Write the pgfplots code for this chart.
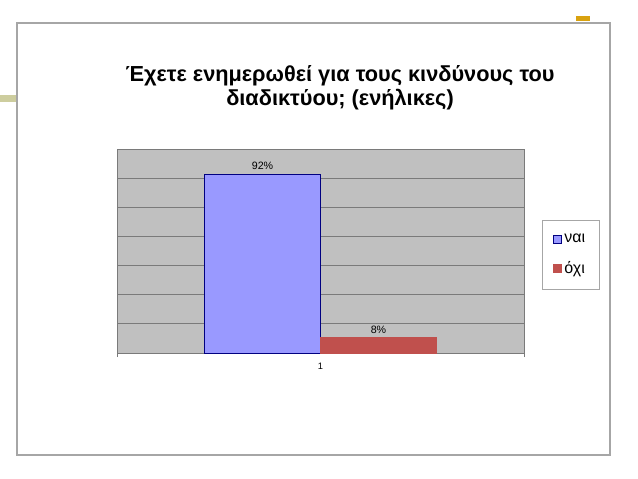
\documentclass[border=0pt]{standalone}
\usepackage{pgfplots}
\pgfplotsset{compat=1.18}
\usepackage{fontspec}
\setmainfont{Liberation Sans}

\definecolor{plotbg}{HTML}{C0C0C0}
\definecolor{gridgray}{HTML}{7A7A7A}
\definecolor{framegray}{HTML}{A6A6A6}
\definecolor{naiblue}{HTML}{9999FF}
\definecolor{navyedge}{HTML}{000080}
\definecolor{oxired}{HTML}{C0504D}
\definecolor{olivebar}{HTML}{CDCD9E}
\definecolor{goldmark}{HTML}{D9A20F}

\begin{document}
\begin{tikzpicture}
  % slide decoration, in pixel units of the reference
  \begin{scope}[x=0.75pt,y=-0.75pt]
    \path (0,0) rectangle (638,478);
    \fill[olivebar] (0,95) rectangle (17,102);
    \fill[goldmark] (576,16) rectangle (590,21);
    \draw[framegray, line width=0.9pt] (17,23) rectangle (610,455);
    \node[font=\bfseries\fontsize{16.3}{19}\selectfont, anchor=base]
      at (340,81) {Έχετε ενημερωθεί για τους κινδύνους του};
    \node[font=\bfseries\fontsize{16.3}{19}\selectfont, anchor=base]
      at (340,105) {διαδικτύου; (ενήλικες)};
  \end{scope}

  \begin{axis}[
      at={(87.75pt,-264.75pt)},
      anchor=south west,
      scale only axis,
      width=305.25pt,
      height=153pt,
      xmin=0, xmax=2,
      ymin=0, ymax=105,
      ybar=0pt,
      bar width=87pt,
      /pgf/number format/assume math mode=true,
      axis background/.style={fill=plotbg},
      axis line style={draw=gridgray, line width=0.6pt},
      ytick={0,15,...,105},
      yticklabels={},
      ytick style={draw=none},
      ymajorgrids=true,
      grid style={draw=gridgray, line width=0.6pt},
      xtick={0,2},
      xticklabels={},
      xtick pos=bottom,
      tick align=outside,
      xtick style={draw=gridgray, line width=0.6pt},
      major tick length=3pt,
      extra x ticks={1},
      extra x tick labels={1},
      extra x tick style={major tick length=0pt, grid=none,
        tick label style={yshift=-4pt}},
      tick label style={font=\fontsize{7}{8}\selectfont},
      nodes near coords={\pgfmathprintnumber{\pgfplotspointmeta}\%},
      every node near coord/.append style={font=\fontsize{8}{9}\selectfont, inner sep=1pt, yshift=2pt},
      legend image code/.code={\draw[line width=0.5pt,#1] (0pt,-3pt) rectangle (6pt,3pt);},
      legend style={
        at={(1.0435,0.652)}, anchor=north west,
        draw=framegray, line width=0.6pt,
        font=\fontsize{12}{13}\selectfont,
        row sep=8.5pt, inner xsep=8.25pt, inner ysep=8.25pt,
        cells={anchor=west},
        nodes={inner xsep=2pt},
      },
    ]
    \addplot[fill=naiblue, draw=navyedge, line width=0.7pt] coordinates {(1,92)};
    \addlegendentry{ναι}
    \addplot[fill=oxired, draw=oxired] coordinates {(1,8)};
    \addlegendentry{όχι}
  \end{axis}
\end{tikzpicture}
\end{document}
